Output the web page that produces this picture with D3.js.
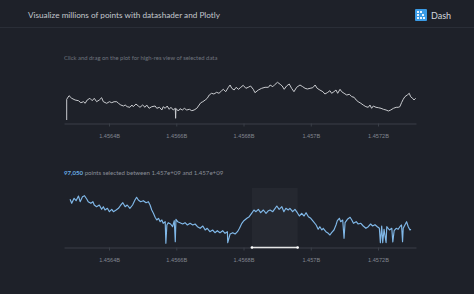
<!DOCTYPE html>
<html>
<head>
<meta charset="utf-8">
<script src="https://d3js.org/d3.v7.min.js"></script>
<style>
  html, body { margin: 0; padding: 0; background: #1e2129; }
  svg { display: block; font-family: Lato, "Open Sans", sans-serif; }
  .tick text { fill: #80858e; font-size: 5.6px; }
  .tick line, .domain { stroke: #3a3f48; }
</style>
</head>
<body>
<svg width="474" height="294"></svg>
<script>
// time offsets are in thousands of seconds from t0
var t0 = 1456400000;
var xRange = [-134, 913];
var tickVals = [0, 200, 400, 600, 800];

var overviewT = [-126, -126, -119, -111, -101, -91, -84, -76, -71, -65, -57, -50, -44, -37, -29, -22, -17, -7, 1, 8, 15, 23, 28, 35, 43, 48, 54, 62, 68, 72, 80, 87, 92, 100, 107, 112, 119, 127, 137, 142, 150, 157, 161, 167, 173, 179, 184, 191, 197, 198, 199, 206, 211, 218, 224, 231, 239, 246, 253, 261, 268, 273, 279, 286, 292, 298, 305, 312, 320, 327, 335, 340, 347, 355, 360, 365, 372, 378, 385, 392, 399, 407, 414, 421, 429, 434, 444, 454, 464, 474, 479, 487, 494, 501, 509, 515, 521, 528, 536, 543, 550, 558, 568, 576, 583, 590, 598, 606, 613, 619, 627, 636, 642, 649, 657, 662, 669, 675, 680, 687, 692, 699, 707, 715, 722, 729, 735, 741, 749, 756, 764, 771, 776, 781, 786, 794, 801, 809, 816, 824, 831, 838, 846, 854, 860, 865, 870, 875, 880, 887, 893, 897, 903, 907, 912];
var overviewV = [3, 23.7, 27.3, 24.7, 23, 22.3, 20.3, 21.3, 19.7, 23, 24.7, 22.3, 24.7, 21.3, 23, 25.3, 21.3, 19.7, 21.3, 20.3, 21.3, 21.3, 19.7, 18, 17, 18, 16.3, 15.7, 18, 16.3, 19, 17, 15.7, 18, 15.7, 18, 14.7, 16.3, 17, 14.7, 15.7, 13, 16.3, 14.7, 17, 13.7, 15.7, 13, 14.7, 4.7, 14.5, 12, 14.3, 13, 14.7, 13, 13.7, 12.3, 13, 14.7, 18, 20.3, 21.3, 23, 24.7, 28, 29.7, 29, 30.7, 29.7, 32.3, 33.7, 31.3, 35.7, 38, 34.7, 33, 35.7, 33.7, 35.7, 37.7, 34.7, 35.7, 37, 33.7, 30.3, 33, 34.7, 35.7, 35.7, 38, 36.3, 38.7, 40.7, 38.7, 37, 33.7, 37, 39, 34.7, 31.3, 35.7, 38, 36.3, 34.7, 34, 34.7, 35.3, 38, 34.7, 33, 31.3, 29, 30.3, 32.3, 29.7, 31.3, 33, 29.7, 33.7, 31.3, 29.7, 28, 28.7, 26.3, 25.7, 23, 21.3, 19.7, 18, 16.3, 15.7, 18, 14.7, 17, 15.7, 15.3, 14.7, 13.7, 13, 12, 13, 14.7, 15.7, 15.7, 16.3, 20.3, 23.7, 26.3, 28, 29.7, 26.3, 24.7, 23, 24.7];

var detailT = [-116, -111, -104, -98, -91, -86, -79, -73, -66, -62, -54, -48, -44, -37, -29, -22, -17, -12, -5, 1, 8, 13, 21, 28, 35, 41, 48, 54, 62, 70, 77, 82, 87, 94, 102, 110, 117, 122, 127, 132, 137, 142, 147, 152, 157, 161, 167, 169, 172, 176, 183, 189, 194, 197, 199, 204, 211, 219, 226, 233, 241, 249, 256, 263, 271, 279, 286, 292, 300, 308, 315, 322, 330, 338, 345, 352, 353, 360, 368, 375, 382, 388, 395, 401, 410, 417, 424, 431, 437, 444, 451, 459, 467, 474, 479, 487, 494, 499, 506, 514, 520, 526, 533, 538, 546, 553, 560, 566, 573, 580, 586, 593, 600, 608, 616, 622, 627, 633, 637, 645, 652, 657, 662, 669, 675, 679, 685, 689, 695, 699, 702, 709, 717, 722, 727, 735, 741, 749, 756, 764, 771, 778, 784, 791, 798, 804, 807, 811, 814, 818, 824, 826, 834, 841, 844, 848, 854, 860, 865, 870, 873, 875, 880, 885, 890, 895, 898];
var detailV = [48.7, 44.7, 49.7, 47.3, 52, 46.3, 51.3, 52.3, 48.7, 46.3, 44.7, 46.3, 43, 41.3, 43, 38.7, 41.3, 38, 39.7, 36.3, 38.7, 36.3, 38, 39.7, 43, 45.3, 41.3, 43, 39.7, 43, 48, 50.7, 48, 46.3, 47.3, 45.3, 46.3, 43, 38, 34.7, 30.7, 28, 29.7, 26.3, 28, 24.7, 26.3, 4.7, 23, 25.3, 24, 21.3, 27.3, 6.3, 28.7, 26.3, 25.3, 24, 25.3, 23, 24.7, 23, 24, 21.3, 19.7, 22, 18, 19.7, 16.3, 18, 15.3, 17.3, 15.3, 17.3, 14.7, 16.3, 5.3, 14, 15.3, 14, 16.3, 19.7, 24.7, 27.3, 29.7, 31.3, 34.7, 38, 36.3, 38.7, 35.3, 38, 34.7, 37.3, 38, 36.3, 39.7, 42, 38.7, 41.3, 36.3, 39.7, 38, 39.7, 36.3, 38.7, 35.3, 32, 34.7, 32, 35.3, 31.3, 29.7, 26.3, 23, 18.7, 21.3, 18, 19.7, 16.3, 14.7, 13, 15.3, 18, 23, 27.3, 29.7, 26.3, 28, 9.7, 25.3, 28.7, 30.7, 28, 24.7, 26.3, 24, 24.7, 22, 19.7, 21.3, 24, 22, 23.3, 21.3, 19.7, 5.3, 22, 5.3, 18.7, 5.3, 21.3, 18, 19.7, 6, 17.3, 19.7, 18.7, 21.3, 23, 6.3, 19.7, 23, 26.3, 21.3, 18, 18.7];

var selection = [425, 561];
var pointCount = 97050;

var svg = d3.select("svg");

// header
svg.append("text")
  .attr("x", 28).attr("y", 17.8)
  .attr("fill", "#c3c7cd").attr("font-size", "8.2px")
  .text("Visualize millions of points with datashader and Plotly");

var logo = svg.append("g").attr("transform", "translate(415,9)");
logo.append("rect").attr("width", 12).attr("height", 12).attr("rx", 1).attr("fill", "#3a9be6");
[[2,2],[5,2],[2,5],[7,5],[2,8],[5,8],[8,8]].forEach(function(p) {
  logo.append("rect").attr("x", p[0]).attr("y", p[1]).attr("width", 2).attr("height", 2).attr("fill", "#e8f3fc");
});
svg.append("text")
  .attr("x", 431).attr("y", 18.5)
  .attr("fill", "#d3d7dd").attr("font-size", "9px")
  .text("Dash");

svg.append("line")
  .attr("x1", 0).attr("x2", 474).attr("y1", 27.5).attr("y2", 27.5)
  .attr("stroke", "#2a2e37");

var x = d3.scaleLinear()
  .domain(xRange.map(function(d) { return t0 + d * 1000; }))
  .range([64, 416]);

function fmtB(d) {
  return (+(d / 1e9).toFixed(4)) + "B";
}

function xAxis(y) {
  svg.append("g")
    .attr("transform", "translate(0," + y + ")")
    .call(d3.axisBottom(x)
      .tickValues(tickVals.map(function(d) { return t0 + d * 1000; }))
      .tickFormat(fmtB)
      .tickSize(3).tickSizeOuter(0).tickPadding(7.5));
}

// overview plot
svg.append("text")
  .attr("x", 64).attr("y", 59.5)
  .attr("fill", "#6f747d").attr("font-size", "5.9px")
  .text("Click and drag on the plot for high-res view of selected data");

var yTop = d3.scaleLinear().domain([0, 50]).range([123, 73]);
xAxis(123.5);

svg.append("path")
  .datum(d3.zip(overviewT, overviewV))
  .attr("fill", "none")
  .attr("stroke", "#c9cbcf")
  .attr("stroke-width", 1)
  .attr("stroke-linejoin", "round")
  .attr("d", d3.line()
    .x(function(d) { return x(t0 + d[0] * 1000); })
    .y(function(d) { return yTop(d[1]); }));

// detail plot
var label = svg.append("text")
  .attr("x", 64).attr("y", 175)
  .attr("font-size", "6.1px");
label.append("tspan").attr("fill", "#6aaee6").attr("font-weight", "bold").text(d3.format(",")(pointCount));
label.append("tspan").attr("fill", "#8a8f98").text(" points selected between 1.457e+09 and 1.457e+09");

var yBot = d3.scaleLinear().domain([0, 60]).range([248, 188]);

svg.append("rect")
  .attr("x", x(t0 + selection[0] * 1000))
  .attr("y", yBot(60))
  .attr("width", x(t0 + selection[1] * 1000) - x(t0 + selection[0] * 1000))
  .attr("height", yBot(0) - yBot(60))
  .attr("fill", "#ffffff").attr("fill-opacity", 0.035);

xAxis(247.5);

svg.append("path")
  .datum(d3.zip(detailT, detailV))
  .attr("fill", "none")
  .attr("stroke", "#80b8e8")
  .attr("stroke-width", 1.15)
  .attr("stroke-linejoin", "round")
  .attr("d", d3.line()
    .x(function(d) { return x(t0 + d[0] * 1000); })
    .y(function(d) { return yBot(d[1]); }));

svg.append("line")
  .attr("x1", x(t0 + selection[0] * 1000)).attr("x2", x(t0 + selection[1] * 1000))
  .attr("y1", 247.5).attr("y2", 247.5)
  .attr("stroke", "#e6e6e6").attr("stroke-width", 1.3);
selection.forEach(function(s) {
  svg.append("circle")
    .attr("cx", x(t0 + s * 1000)).attr("cy", 247.5).attr("r", 1.3)
    .attr("fill", "#ffffff");
});
</script>
</body>
</html>
